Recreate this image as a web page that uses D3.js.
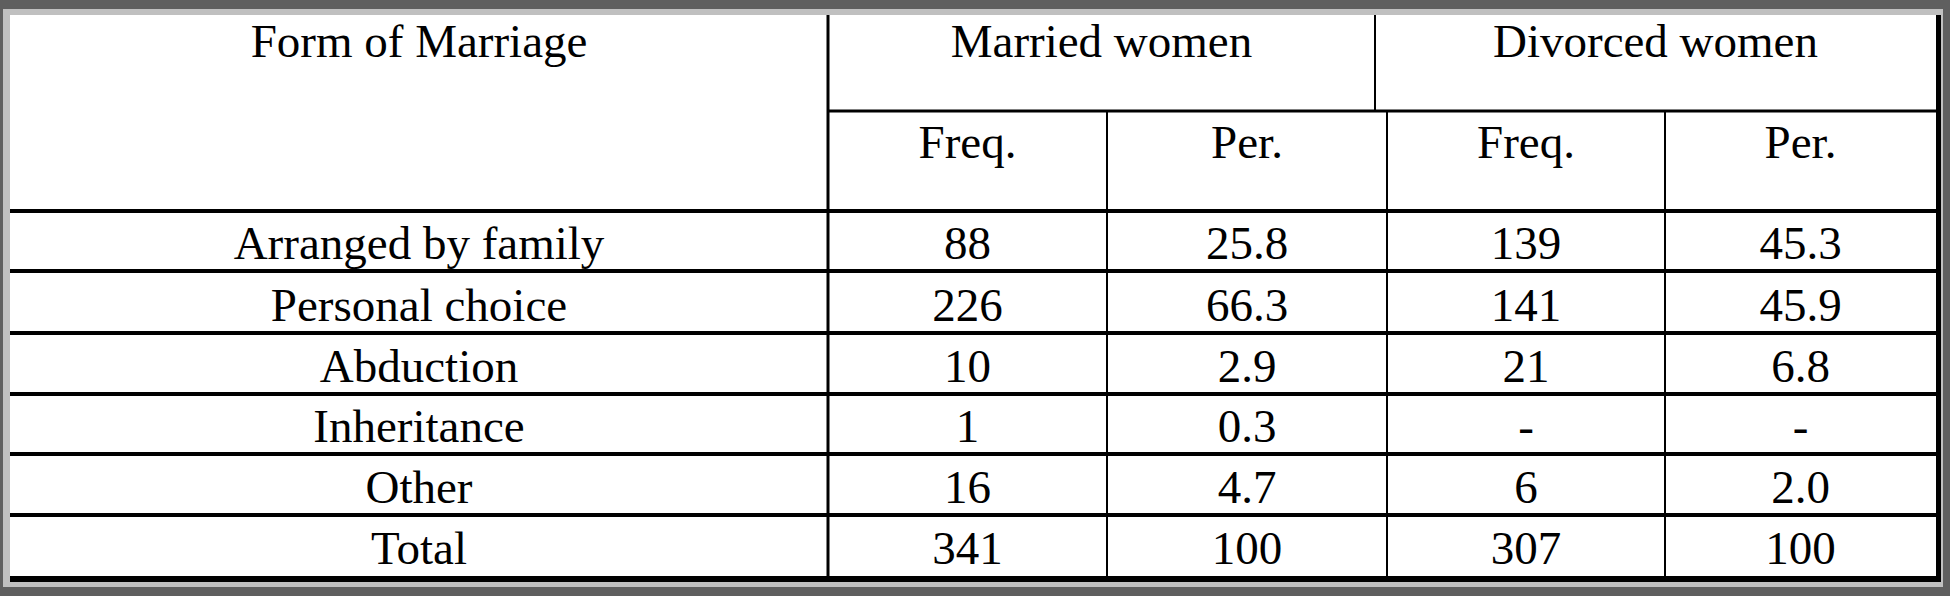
<!DOCTYPE html>
<html><head><meta charset="utf-8">
<script src="https://cdn.jsdelivr.net/npm/d3@7"></script>
<style>body{margin:0;background:#5f5f5f;overflow:hidden}</style>
</head><body><svg id="chart"></svg>
<script>
const categories = ["Arranged by family", "Personal choice", "Abduction", "Inheritance", "Other", "Total"];
const marriedFreq = ["88", "226", "10", "1", "16", "341"];
const marriedPer = ["25.8", "66.3", "2.9", "0.3", "4.7", "100"];
const divorcedFreq = ["139", "141", "21", "-", "6", "307"];
const divorcedPer = ["45.3", "45.9", "6.8", "-", "2.0", "100"];
const groups = ["Married women", "Divorced women"];
const subHeads = ["Freq.", "Per.", "Freq.", "Per."];

const W = 1950, H = 596;
const svg = d3.select("#chart").attr("width", W).attr("height", H);

// frame
svg.append("rect").attr("x", 3).attr("y", 9).attr("width", 1940).attr("height", 578).attr("fill", "#c0c0c0");
svg.append("rect").attr("x", 10).attr("y", 15).attr("width", 1931).attr("height", 567).attr("fill", "#000");
svg.append("rect").attr("x", 10).attr("y", 15).attr("width", 1926).attr("height", 561).attr("fill", "#fff");

const colEdges = [10, 828, 1107, 1387, 1665, 1936];
const rowEdges = [15, 111, 211, 271, 333, 394, 454, 515, 576];
const font = "'Liberation Serif', 'Times New Roman', serif";

const line = (x1, y1, x2, y2, w) => svg.append("line")
  .attr("x1", x1).attr("y1", y1).attr("x2", x2).attr("y2", y2)
  .attr("stroke", "#000").attr("stroke-width", w);

// horizontal rules
line(828, 111, 1936, 111, 3);
rowEdges.slice(2, 8).forEach(y => line(10, y, 1936, y, 4));
// vertical rules
line(828, 15, 828, 576, 3);
line(1375, 15, 1375, 111, 2);
[1107, 1387, 1665].forEach(x => line(x, 111, x, 576, 2));

const text = (x, y, s) => svg.append("text").attr("x", x).attr("y", y)
  .attr("text-anchor", "middle").attr("font-family", font).attr("font-size", 47)
  .attr("fill", "#000").text(s);

text((10 + 828) / 2, 57, "Form of Marriage");
text((828 + 1375) / 2, 57, groups[0]);
text((1375 + 1936) / 2, 57, groups[1]);
subHeads.forEach((s, i) => text((colEdges[i + 1] + colEdges[i + 2]) / 2, 158, s));

const cols = [categories, marriedFreq, marriedPer, divorcedFreq, divorcedPer];
categories.forEach((c, r) => {
  const yb = rowEdges[r + 3] - 12;
  cols.forEach((arr, ci) => text((colEdges[ci] + colEdges[ci + 1]) / 2, yb, arr[r]));
});
</script></body></html>
